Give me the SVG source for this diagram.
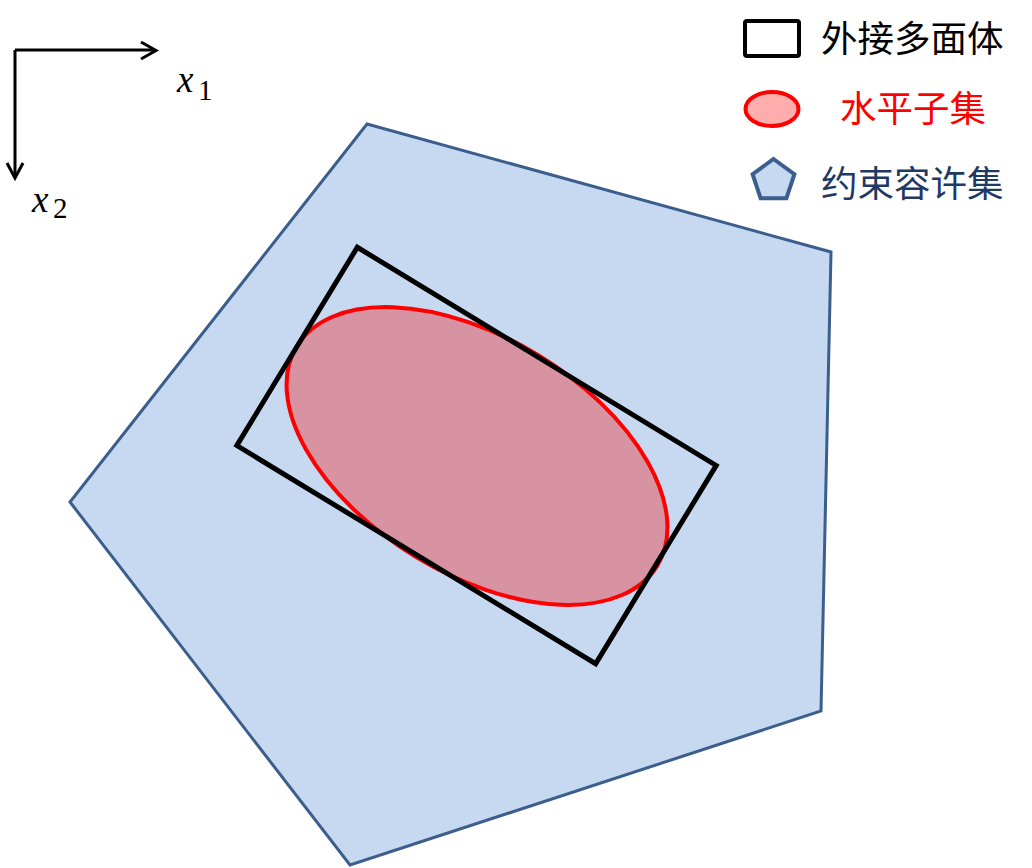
<svg xmlns="http://www.w3.org/2000/svg" width="1032" height="868" viewBox="0 0 1032 868">
  <style>
    .cjk { font-family: "Noto Sans CJK SC", "Noto Sans", sans-serif; font-size: 36.5px; }
    .math { font-family: "Liberation Serif", "DejaVu Serif", serif; font-style: italic; font-size: 37px; fill: #000; }
    .sub { font-family: "Liberation Serif", "DejaVu Serif", serif; font-size: 29px; fill: #000; }
    .axis { stroke: #000; stroke-width: 3; fill: none; }
    .feasible { fill: #c6d9f1; stroke: #3b5e8c; stroke-linejoin: miter; }
    .level { fill: rgba(255,0,0,0.32); stroke: #ff0000; }
    .outer { fill: none; stroke: #000; stroke-linejoin: miter; }
  </style>
  <rect width="1032" height="868" fill="#ffffff"/>

  <g id="feasible-set">
    <polygon class="feasible" stroke-width="3" points="367,124 831,252 821,711 350,865 70,502"/>
  </g>

  <g id="level-subset">
    <ellipse class="level" stroke-width="4" cx="477" cy="456" rx="211" ry="118" transform="rotate(31.3 477 456)"/>
  </g>

  <g id="outer-polytope">
    <rect class="outer" stroke-width="5" x="266.5" y="339.5" width="420" height="232" transform="rotate(31.3 476.5 455.5)"/>
  </g>

  <g id="axes">
    <g id="connectors">
      <path class="axis" d="M15,50 H155"/>
      <path class="axis" d="M141,42 L156,50.5 L141,59"/>
      <path class="axis" d="M15,50 V178"/>
      <path class="axis" d="M7,163 L15,178 L23,163"/>
    </g>
    <text class="math" x="177" y="92">x</text>
    <text class="sub" x="198" y="100">1</text>
    <text class="math" x="32" y="212">x</text>
    <text class="sub" x="53" y="218">2</text>
  </g>

  <g id="legend">
    <g id="legend-polytope">
      <rect x="745" y="21" width="54" height="35" rx="2" fill="#fff" stroke="#000" stroke-width="4"/>
      <text class="cjk" x="821" y="52" fill="#000">外接多面体</text>
    </g>
    <g id="legend-level">
      <ellipse cx="772" cy="109" rx="26.5" ry="17" fill="#ffadad" stroke="#ff0000" stroke-width="4"/>
      <text class="cjk" x="840" y="122" fill="#ff0000">水平子集</text>
    </g>
    <g id="legend-feasible">
      <polygon points="773.5,159 794.4,174.2 786.4,198.3 760.6,198.3 752.6,174.2" fill="#c6d9f1" stroke="#3b5e8c" stroke-width="4" stroke-linejoin="miter"/>
      <text class="cjk" x="821" y="197" fill="#1f3864">约束容许集</text>
    </g>
  </g>
</svg>
